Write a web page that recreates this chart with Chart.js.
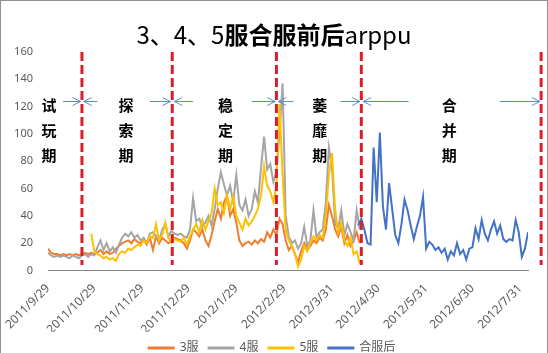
<!DOCTYPE html>
<html><head><meta charset="utf-8">
<script src="https://cdn.jsdelivr.net/npm/chart.js@4"></script>
<style>
html,body{margin:0;padding:0;background:#fff;}
#wrap{position:relative;width:548px;height:353px;overflow:hidden;background:#fff;}
canvas{position:absolute;left:0;top:0;}
#title{position:absolute;left:0;top:20px;width:548px;text-align:center;font-family:"Noto Sans CJK SC",sans-serif;font-size:24px;line-height:28px;color:#000;white-space:nowrap;}
#title b{font-weight:700;}
#frame{position:absolute;left:0;top:0;width:548px;height:353px;box-sizing:border-box;border:1px solid #8f8f8f;border-bottom:none;pointer-events:none;}
</style></head>
<body>
<div id="wrap">
<canvas id="c" width="548" height="353"></canvas>
<div id="title">3、4、5<b>服合服前后</b>arppu</div>
<div id="frame"></div>
</div>
<script>
// ---- data ----
const tickLabels = ['2011/9/29','2011/10/29','2011/11/29','2011/12/29','2012/1/29','2012/2/29','2012/3/31','2012/4/30','2012/5/31','2012/6/30','2012/7/31'];
const tickDays = [0,30,61,91,122,153,184,214,245,275,306];
const lastDay = 311;
const stepDays = 2;
const seriesNames = ['3服','4服','5服','合服后'];

const s3Start = 0;
const s3 = [16,13,12,12,11,12,11,12,11,12,
  11,12,13,12,13,12,13,15,12,14,
  12,13,16,18,20,21,22,20,23,21,
  20,22,19,24,15,25,20,24,22,20,
  22,24,23,22,20,16,22,30,28,25,
  30,22,18,26,36,45,38,50,55,40,
  45,35,22,18,20,21,19,22,20,23,
  21,28,24,30,26,38,34,22,15,18,
  12,6,14,20,15,18,22,20,24,22,
  30,48,40,30,25,32,20,26,18,22,
  28,20];
const s4Start = 0;
const s4 = [13,11,10,11,10,11,10,9,11,10,
  9,11,12,10,12,11,17,22,15,20,
  14,17,13,19,24,27,25,28,24,26,
  22,24,20,27,28,25,22,30,34,25,
  29,27,26,27,25,24,30,53,36,38,
  32,35,40,33,45,60,72,63,55,62,
  50,70,48,44,52,40,45,58,50,75,
  98,74,78,65,72,100,137,40,25,20,
  22,16,20,32,18,22,44,24,28,30,
  50,90,75,35,30,44,26,34,28,22,
  44,30];
const s5Start = 28;
const s5 = [27,14,12,11,9,10,8,9,7,12,
  14,13,16,15,17,19,18,22,20,25,
  24,34,22,26,35,24,20,23,22,21,
  24,19,25,30,34,28,37,30,36,42,
  60,48,50,42,55,45,54,40,35,30,
  38,33,36,40,45,55,76,62,58,50,
  62,122,70,30,22,18,12,3,8,18,
  14,20,25,22,26,24,40,70,86,45,
  28,35,22,18,24,12,14,5];
const mergedStart = 201;
const merged = [33,38,30,20,19,90,50,101,47,30,
  64,45,26,20,34,52,44,33,23,32,
  40,54,16,21,19,15,17,13,16,8,
  14,11,20,12,15,8,16,17,31,23,
  37,27,22,30,36,27,33,23,21,23,
  22,37,28,10,16,28];

const phaseNames = ['试玩期','探索期','稳定期','萎靡期','合并期'];
const phaseDays = [0.65, 50.6, 115, 176, 260];
const phaseTopValue = 121;
const boundaryDays = [22, 80.5, 148, 203, 319.5];
const boundaryTop = 160, boundaryBottom = 4;
const arrowFrom = [9.7, 32, 66, 94, 132, 159, 189.5, 233.6, 292.7];
const arrowTo   = [21.1, 23.2, 79.4, 81.8, 147.2, 149.2, 202.2, 204.2, 318.7];
const arrowValue = 124;

// ---- build ----
const toPoints = (start, vals) => vals.map((v, i) => ({x: start + i * stepDays, y: v}));
const colors = ['#ED7D31', '#A5A5A5', '#FFC000', '#4472C4'];
const seriesData = [toPoints(s3Start, s3), toPoints(s4Start, s4), toPoints(s5Start, s5), toPoints(mergedStart, merged)];

Chart.defaults.font.family = "'Noto Sans','Noto Sans CJK SC',sans-serif";
Chart.defaults.color = '#595959';

const annot = {
  id: 'annot',
  afterDatasetsDraw(chart) {
    const {ctx, scales: {x, y}} = chart;
    ctx.save();
    ctx.strokeStyle = '#DC1E28';
    ctx.lineWidth = 3;
    ctx.setLineDash([9, 4]);
    boundaryDays.forEach(d => {
      const px = x.getPixelForValue(d);
      ctx.beginPath();
      ctx.moveTo(px, y.getPixelForValue(boundaryTop));
      ctx.lineTo(px, y.getPixelForValue(boundaryBottom));
      ctx.stroke();
    });
    ctx.setLineDash([]);
    ctx.strokeStyle = '#5B8FCF';
    ctx.lineWidth = 1;
    const ay = Math.round(y.getPixelForValue(arrowValue)) + 0.5;
    arrowFrom.forEach((f, i) => {
      const x0 = x.getPixelForValue(f), x1 = x.getPixelForValue(arrowTo[i]);
      const dir = Math.sign(x1 - x0);
      ctx.beginPath();
      ctx.moveTo(x0, ay); ctx.lineTo(x1, ay);
      ctx.moveTo(x1 - dir * 8, ay - 4); ctx.lineTo(x1, ay); ctx.lineTo(x1 - dir * 8, ay + 4);
      ctx.stroke();
    });
    ctx.fillStyle = '#000';
    ctx.font = 'bold 15px "Noto Sans CJK SC"';
    ctx.textAlign = 'center';
    ctx.textBaseline = 'middle';
    const ty = y.getPixelForValue(phaseTopValue);
    phaseNames.forEach((name, i) => {
      const px = x.getPixelForValue(phaseDays[i]);
      Array.from(name).forEach((ch, j) => ctx.fillText(ch, px, ty + j * 25));
    });
    ctx.restore();
  }
};

new Chart(document.getElementById('c'), {
  type: 'line',
  data: {
    datasets: seriesNames.map((name, i) => ({
      label: name,
      data: seriesData[i],
      borderColor: colors[i],
      backgroundColor: colors[i],
      borderWidth: 2,
      pointRadius: 0,
      tension: 0,
      order: 4 - i
    }))
  },
  options: {
    responsive: false,
    animation: false,
    layout: {padding: {left: 8, right: 12, top: 52, bottom: -11}},
    plugins: {
      title: {display: false},
      tooltip: {enabled: false},
      legend: {
        position: 'bottom',
        labels: {
          boxWidth: 25, boxHeight: 1, padding: 10,
          font: {size: 12}, color: '#595959',
          sort: (a, b) => a.datasetIndex - b.datasetIndex
        }
      }
    },
    scales: {
      x: {
        type: 'linear', min: 0, max: lastDay,
        grid: {display: false, drawTicks: false},
        border: {display: true, color: '#868686', width: 1},
        afterBuildTicks: axis => { axis.ticks = tickDays.map(v => ({value: v})); },
        afterFit: s => { s.height = 61.5; s.paddingLeft = 0; s.paddingRight = 0; },
        ticks: {
          autoSkip: false, maxRotation: 45, minRotation: 45, padding: 11,
          font: {size: 12}, color: '#595959',
          callback: v => tickLabels[tickDays.indexOf(v)]
        }
      },
      y: {
        min: 0, max: 160,
        grid: {display: false, drawTicks: false},
        border: {display: false},
        afterFit: s => { s.width = 40; s.paddingTop = 0; s.paddingBottom = 0; },
        ticks: {stepSize: 20, padding: 15, font: {size: 11}, color: '#595959'}
      },
      yPad: {
        position: 'right', min: 0, max: 1, display: true,
        grid: {display: false, drawTicks: false},
        border: {display: false},
        ticks: {display: false},
        afterFit: s => { s.width = 8; }
      }
    }
  },
  plugins: [annot]
});
</script>
</body></html>
